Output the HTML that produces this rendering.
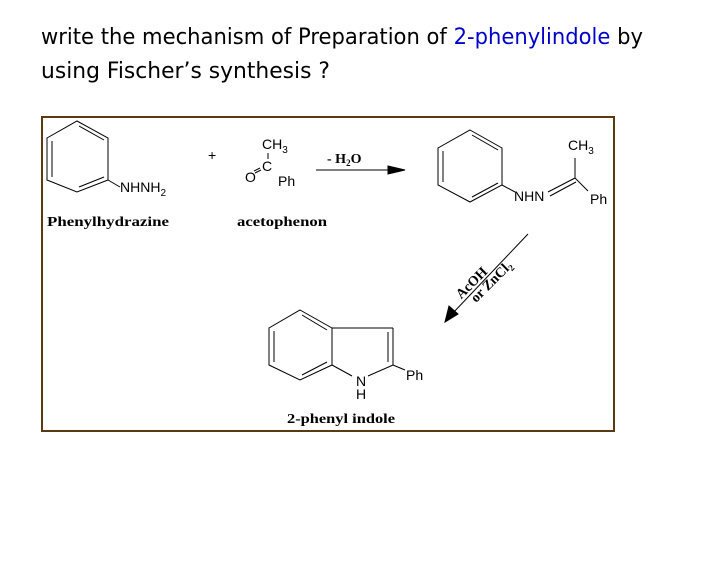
<!DOCTYPE html>
<html><head><meta charset="utf-8"><style>
html,body{margin:0;padding:0;background:#fff;width:727px;height:581px;overflow:hidden}
svg{display:block}
.s{font-family:"Liberation Sans",Arial,sans-serif;font-size:14px;fill:#000}
.b{font-family:"Liberation Serif",serif;font-weight:bold;font-size:14px;fill:#000}
.t{font-family:"DejaVu Sans","Liberation Sans",sans-serif;font-size:22px;fill:#000}
line,polyline,polygon{stroke:#000;stroke-width:1;fill:none}
polygon.f{fill:#000}
</style></head><body>
<svg width="727" height="581" viewBox="0 0 727 581">
<text class="t" x="41" y="44" textLength="602" lengthAdjust="spacingAndGlyphs">write the mechanism of Preparation of <tspan fill="#0000cc">2-phenylindole</tspan> by</text>
<text class="t" x="41" y="78" textLength="289" lengthAdjust="spacingAndGlyphs">using Fischer’s synthesis ?</text>
<rect x="42" y="117" width="572" height="314" fill="none" stroke="#5a3a10" stroke-width="2"/>

<!-- phenylhydrazine -->
<polygon points="77,121 108,138 108,180 77,192 47,180 47,138"/>
<line x1="52" y1="141" x2="52" y2="177"/><line x1="79" y1="126" x2="104" y2="140"/><line x1="79" y1="187" x2="104" y2="177"/>
<line x1="108" y1="180" x2="120" y2="187"/>
<text class="s" x="120" y="192">NHNH<tspan font-size="10" dy="4">2</tspan></text>
<text class="b" x="47" y="226" textLength="122" lengthAdjust="spacingAndGlyphs">Phenylhydrazine</text>
<text class="s" x="208" y="160" font-size="10">+</text>

<!-- acetophenone -->
<text class="s" x="262" y="149">CH<tspan font-size="10" dy="4">3</tspan></text>
<line x1="268" y1="153" x2="268" y2="159"/>
<text class="s" x="262" y="171">C</text>
<line x1="254" y1="171" x2="260" y2="168"/><line x1="255" y1="173" x2="261" y2="170"/>
<text class="s" x="245" y="182">O</text>
<text class="s" x="278" y="186">Ph</text>
<text class="b" x="237" y="226" textLength="90" lengthAdjust="spacingAndGlyphs">acetophenon</text>

<line x1="316" y1="170" x2="395" y2="170"/>
<polygon class="f" points="388,166 405,170 388,174"/>
<text class="b" x="327" y="163">- H<tspan font-size="9" dy="3">2</tspan><tspan dy="-3">O</tspan></text>

<!-- hydrazone -->
<polygon points="470,130 502,148 502,185 470,202 438,185 438,148"/>
<line x1="443" y1="151" x2="443" y2="182"/><line x1="472" y1="135" x2="498" y2="150"/><line x1="472" y1="197" x2="498" y2="183"/>
<line x1="502" y1="185" x2="515" y2="192"/>
<text class="s" x="514" y="201">NHN</text>
<line x1="548" y1="192" x2="575" y2="178"/><line x1="550" y1="196" x2="576" y2="182"/>
<line x1="575" y1="178" x2="575" y2="158"/>
<line x1="575" y1="178" x2="588" y2="191"/>
<text class="s" x="568" y="150">CH<tspan font-size="10" dy="4">3</tspan></text>
<text class="s" x="590" y="204">Ph</text>

<!-- diagonal arrow -->
<line x1="528" y1="234" x2="452" y2="314"/>
<polygon class="f" points="445,322 449,306 458,314"/>
<g transform="translate(486,279) rotate(-45)">
<text class="b" x="-13" y="-3" text-anchor="middle">AcOH</text>
<text class="b" x="2" y="10" text-anchor="middle">or ZnCl<tspan font-size="9" dy="3">2</tspan></text>
</g>

<!-- indole -->
<polygon points="300,310 332,328 332,365 300,380 269,365 269,328"/>
<line x1="274" y1="331" x2="274" y2="362"/><line x1="302" y1="315" x2="327" y2="330"/><line x1="302" y1="375" x2="327" y2="362"/>
<line x1="332" y1="328" x2="393" y2="328"/>
<line x1="393" y1="328" x2="393" y2="365"/><line x1="388" y1="332" x2="388" y2="362"/>
<line x1="332" y1="365" x2="352" y2="376"/>
<line x1="393" y1="365" x2="368" y2="376"/>
<line x1="393" y1="365" x2="405" y2="370"/>
<text class="s" x="356" y="386">N</text>
<text class="s" x="356" y="399">H</text>
<text class="s" x="406" y="380">Ph</text>
<text class="b" x="287" y="423" textLength="108" lengthAdjust="spacingAndGlyphs">2-phenyl indole</text>
</svg>
</body></html>
